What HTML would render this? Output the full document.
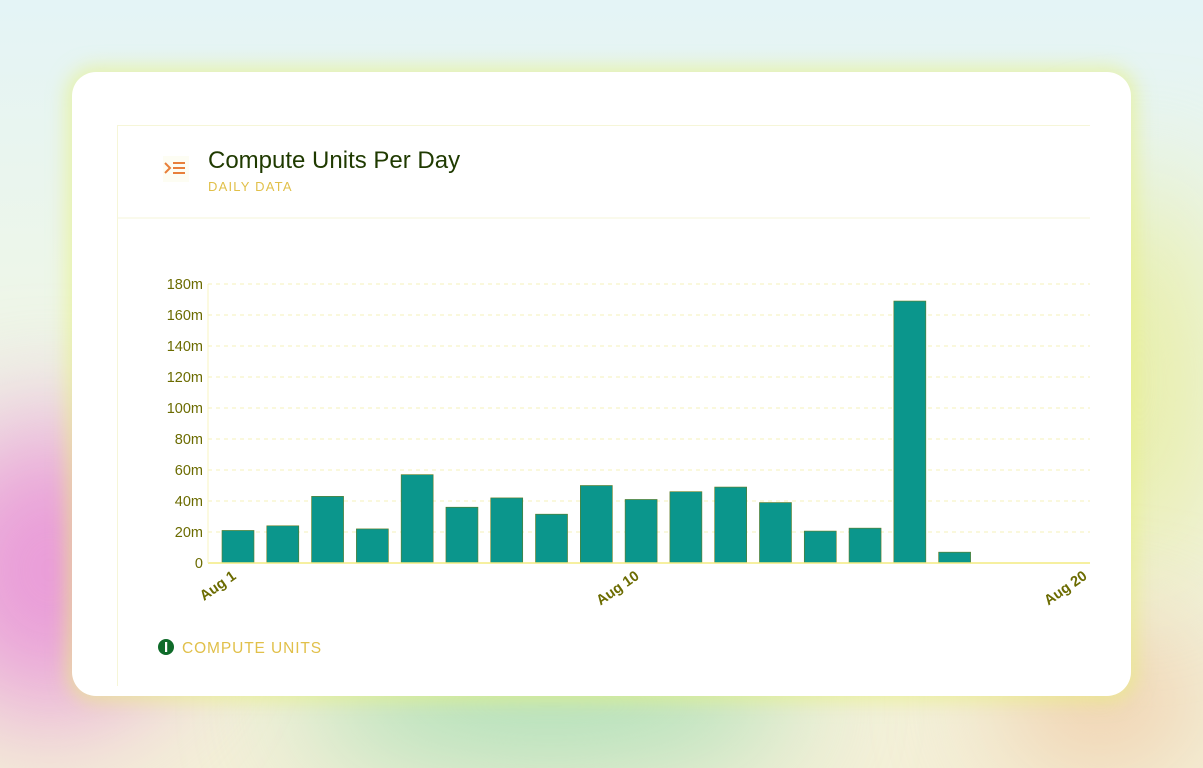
<!DOCTYPE html>
<html><head><meta charset="utf-8"><style>
html,body{margin:0;padding:0;width:1203px;height:768px;overflow:hidden;font-family:"Liberation Sans",sans-serif;position:relative}
#wrap{position:absolute;left:0;top:0;width:1203px;height:768px;overflow:hidden;background:linear-gradient(180deg,#e4f4f6 0%,#eef6e8 40%,#f4f0d8 100%)}
.blob{position:absolute;border-radius:50%;filter:blur(60px)}
#card{position:absolute;left:72px;top:72px;width:1059px;height:624px;background:#fff;border-radius:24px;box-shadow:0 0 18px 6px rgba(230,240,120,.55);overflow:hidden}
#panel{position:absolute;left:45px;top:53px;width:972px;height:560px;border-top:1px solid #f6f6d8;border-left:1px solid #f6f6d8}
svg{display:block}
</style></head><body>
<div id="wrap">
<div class="blob" style="left:-80px;top:420px;width:260px;height:300px;background:#e99ad8"></div>
<div class="blob" style="left:300px;top:650px;width:500px;height:110px;background:#9fdcb0"></div>
<div class="blob" style="left:1080px;top:180px;width:120px;height:400px;background:#e6ec9a"></div>
<div class="blob" style="left:1000px;top:640px;width:200px;height:120px;background:#f0c6a0"></div>
<div id="card">
<div id="panel"></div>
</div>
</div>
<svg width="1203" height="768" style="position:absolute;left:0;top:0">
<line x1="117" y1="218" x2="1090" y2="218" stroke="#f6f6d8"/>
<g>
<rect x="163" y="156" width="26" height="26" fill="#fdfdf3"/>
<path d="M165 163 L170 168 L165 173" stroke="#e87f3a" stroke-width="2" fill="none"/>
<path d="M173 163h12M173 168h12M173 173h12" stroke="#e87f3a" stroke-width="2"/>
</g>
<text x="208" y="168" font-size="24" fill="#1f3a00">Compute Units Per Day</text>
<text x="208" y="191" font-size="13" fill="#e1c04a" letter-spacing="1.2">DAILY DATA</text>
<g id="grid"></g><g id="bars"></g><g id="axes"></g>
<g>
<circle cx="166" cy="647" r="8" fill="#0f6b2a"/>
<rect x="165" y="642" width="2.2" height="10" fill="#fff"/>
<text x="182" y="653" font-size="15.5" fill="#e1c04a" letter-spacing="0.9">COMPUTE UNITS</text>
</g>
</svg>
<script>
const days=[1,2,3,4,5,6,7,8,9,10,11,12,13,14,15,16,17];
const values=[21,24,43,22,57,36,42,31.5,50,41,46,49,39,20.6,22.5,169,7];
const yTicks=[0,20,40,60,80,100,120,140,160,180];
const xTicks=[1,10,20];
const xTickLabels=["Aug 1","Aug 10","Aug 20"];
const NS="http://www.w3.org/2000/svg";
const X=d=>238+(d-1)*(1089-238)/19;
const Y=v=>563-v*(563-284)/180;
function mk(t,a,p){const e=document.createElementNS(NS,t);for(const k in a)e.setAttribute(k,a[k]);p.appendChild(e);return e;}
const grid=document.getElementById('grid'),bars=document.getElementById('bars'),axes=document.getElementById('axes');
yTicks.forEach(v=>{
 if(v>0){const l=mk('line',{x1:208,x2:1090,y1:Y(v),y2:Y(v),stroke:'#f5f0b8','stroke-dasharray':'4 4'},grid);
 
 }
 const t=mk('text',{x:203,y:Y(v)+5,'text-anchor':'end','font-size':14.5,fill:'#6b6b00'},axes);t.textContent=v===0?'0':v+'m';
 
 
});
const base=mk('line',{x1:208,x2:1090,y1:563,y2:563,stroke:'#f4ec80','stroke-width':1.5},axes);


const yl=mk('line',{x1:208,x2:208,y1:284,y2:563,stroke:'#f8f4c0'},axes);


days.forEach((d,i)=>{
 const r=mk('rect',{x:X(d)-16,y:Y(values[i]),width:32,height:563-Y(values[i]),fill:'#0b968c',stroke:'#5f7a20','stroke-width':0.6},bars);
 
 
});
xTicks.forEach((d,i)=>{
 const x=X(d)-1,y=578;
 const t=mk('text',{x:x,y:y,'text-anchor':'end','font-size':14.5,'font-weight':'bold',fill:'#6b6b00',transform:`rotate(-35 ${x} ${y})`},axes);
 t.textContent=xTickLabels[i];
 
 
});
</script>
</body></html>
